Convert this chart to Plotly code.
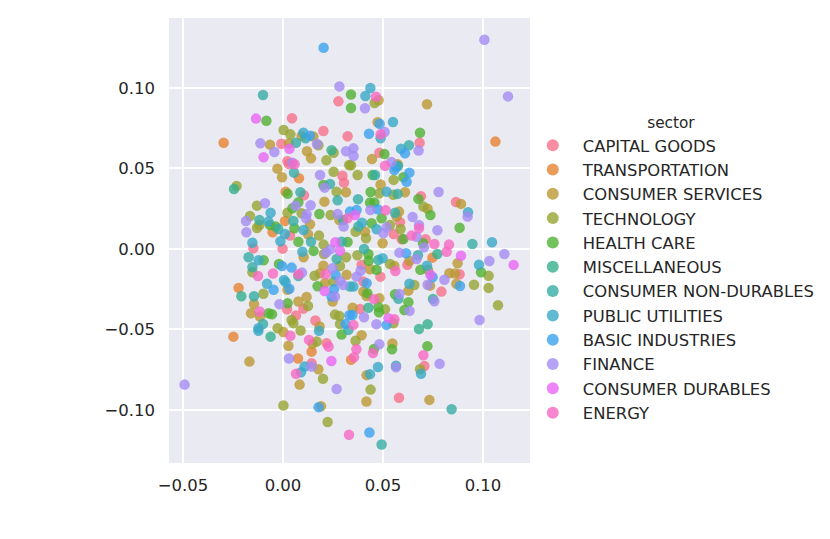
import plotly.graph_objects as go

capital_goods = [(.0277,.0917),(.0045,.0812),(.0202,.0733),(.0323,.07),(-.0008,.0654),(.0022,.0545),(.003,.0528),(.0683,.066),(.0482,.0598),(.0297,.0455),(.0305,.0412),(.0105,.0333),(.0035,.0083),(-.0002,.0002),(-.0148,.0004),(.002,-.0375),(.0065,-.0414),(.0102,-.0371),(.0162,-.0445),(.069,.0327),(.0865,.0292),(.0585,.0166),(.0553,.0093),(.0593,.006),(.0713,.006),(.0622,-.0098),(.0487,-.0172),(.0393,-.0099),(.0402,-.0203),(.0385,-.0373),(.0792,-.0265),(.0883,-.0157),(.0218,-.0586),(.0143,-.071),(.0707,-.0727),(.058,-.0925)]
transportation = [(-.0297,.066),(.1062,.0667),(.008,.0439),(.0013,.0356),(-.0052,.0104),(.001,.0174),(-.0222,-.0242),(.0747,-.0054),(-.0248,-.0545),(.0075,-.0681),(.0143,-.0638),(.034,-.0689)]
consumer_services = [(-.0065,.0648),(.0093,.0702),(.0152,.0698),(.003,.0656),(.012,.0607),(.014,.0563),(-.0028,.0499),(.072,.0899),(.0478,.0924),(.0473,.0787),(.0445,.0559),(.0573,.0526),(-.0005,.0445),(.0315,.0352),(.0207,.0294),(.0135,.0153),(.0282,.018),(.0125,.0091),(.0103,-.0052),(.0022,-.0253),(-.0145,-.0342),(-.016,-.04),(.0077,-.0327),(.0118,-.0298),(-.0115,-.042),(.0202,-.0104),(.0185,-.0151),(.0318,-.0161),(.021,-.0213),(.0248,-.0327),(.0488,.04),(.061,.0352),(.0723,.025),(.089,.028),(.058,.0232),(.0568,.0201),(.041,.0107),(.0498,.0035),(.0873,-.0089),(.0832,-.0151),(.086,-.0153),(.0867,-.0216),(.0735,-.0228),(.0627,-.0259),(.0632,-.0075),(.0557,-.0106),(.0435,-.0126),(.0402,-.0265),(.0418,-.0292),(.0482,-.0306),(.0348,-.0365),(-.0168,-.07),(.0002,-.0516),(.0027,-.0602),(.0148,-.059),(.0183,-.0482),(.0177,-.0747),(.0083,-.0843),(.019,-.0977),(.0393,-.0536),(.0547,-.0588),(.0418,-.0784),(.0417,-.0948),(.0732,-.0938)]
technology = [(.0003,.0739),(.0037,.0712),(.0177,.0644),(.0253,.0598),(.0217,.0551),(.0331,.0522),(.0253,.048),(.0458,.0907),(.034,.052),(.0373,.046),(.0553,.0429),(-.0232,.0391),(.0268,.0356),(-.013,.0269),(.0022,.0225),(.0093,.0222),(.0238,.0211),(-.0165,.0205),(-.0118,.0149),(-.013,.013),(.018,.0083),(.0203,.0027),(.0205,-.0031),(.0315,-.0052),(-.0153,-.0145),(-.0098,-.0278),(.0125,-.0354),(.026,-.0408),(.0282,-.0416),(.0043,-.0441),(.0158,-.0166),(.0285,-.0106),(.0252,-.0203),(.0482,.0346),(.0552,.0337),(.0702,.0263),(.0363,.0107),(.0415,.0066),(.0535,.0149),(.0588,.0124),(.1028,-.0166),(.0955,-.0222),(.1028,-.0242),(.1075,-.035),(.0725,-.013),(.0657,-.0224),(.0535,-.0093),(.0372,-.0039),(.051,-.0375),(-.0027,-.0493),(.0052,-.0462),(.0088,-.0507),(.0168,-.0575),(.0285,-.0466),(.02,-.0807),(.0002,-.0973),(.0223,-.1075),(.0363,-.057),(.0685,-.0747),(.0438,-.0874),(.0552,-.0462)]
health_care = [(.034,.096),(.034,.0876),(-.0083,.0797),(.0685,.0722),(.0507,.059),(.0602,.0445),(.0448,.046),(.0202,.0398),(.0023,.0343),(.0077,.029),(.0047,.0253),(.0182,.0217),(-.0037,.0139),(-.0065,.0149),(.0057,.0129),(.0077,.0045),(.0323,.0043),(.0153,-.0012),(-.0097,-.007),(-.002,-.0093),(.0023,-.0337),(-.0072,-.04),(-.0055,-.0406),(.0173,-.0232),(.0438,.0354),(.0677,.0311),(.0435,.0288),(.0457,.0288),(.0737,.0211),(.0493,.0191),(.0443,.016),(.0602,.0062),(.0883,.0132),(.07,.0035),(.0427,-.0031),(.0428,-.0073),(.0468,-.013),(.0422,-.0275),(.099,-.0145),(.0687,-.013),(.056,-.0281),(.0627,-.0331),(.0607,-.0379),(.0477,-.0362),(.048,-.0393),(.0293,-.0532),(.0455,-.0621),(.0545,-.0623),(.0722,-.0604)]
miscellaneous = [(.0243,.0613),(-.0245,.0373),(-.0208,-.0294),(.0772,-.0031),(.075,-.0311),(.0427,-.0365),(-.0062,-.0545),(.068,-.0497),(.0723,-.0468)]
consumer_non_durables = [(-.010,.0957),(.0113,.0688),(.0065,.066),(.063,.0644),(.0575,.0515),(.046,.046),(.0055,.0474),(.0235,.0404),(.0087,.0352),(.0273,.0302),(-.0118,.018),(-.0023,.0124),(.0052,.0174),(.03,.018),(.014,.0045),(.0293,.0045),(.0268,-.0062),(-.0172,-.0052),(-.0153,-.0114),(.0077,-.0168),(-.0145,-.0294),(.0335,-.0234),(.0573,.0342),(.0375,.0309),(.056,.0225),(.0377,.0139),(.0947,.0031),(.0675,-.0039),(.0405,0),(.0477,-.0068),(.0577,-.0309),(-.01,-.0466),(.0327,-.0503),(.0565,-.0725),(.0843,-.0996),(.0493,-.1215)]
public_utilities = [(.0102,.0722),(.0437,.1),(.0412,.095),(.055,.0789),(.0488,.0688),(.059,.0623),(.0565,.0511),(-.0062,.0225),(-.0073,.017),(.001,.0093),(.0103,.0118),(-.0013,.0048),(-.0153,.0039),(.0097,-.0017),(-.0122,-.007),(.0005,-.0193),(-.008,-.0216),(.0013,-.0207),(.0518,.0356),(.0925,.0228),(.0395,.0163),(.0468,.0122),(.1045,.0042),(.098,-.0098),(.072,-.0104),(.0632,-.0216),(.0498,-.0058),(.0352,-.0234),(-.0123,-.0493),(-.0123,-.0509),(.018,-.0509),(.0108,-.0731),(.009,-.0766),(.069,-.0775),(.0475,-.0733),(.0435,-.0778)]
basic_industries = [(.0203,.125),(.0135,.0704),(.0483,.0778),(.043,.0716),(.061,.0594),(.0632,.0474),(.0335,.0232),(-.0005,-.0106),(.0043,-.0116),(-.0047,-.0253),(.0032,-.0248),(.0263,-.0161),(.0255,-.025),(.0243,-.0296),(.0332,-.0412),(.0557,.0491),(.0618,.0418),(.0368,.0242),(.0473,.0247),(.0885,-.023),(.0748,-.0176),(.0615,-.0027),(.0418,-.0213),(.0347,-.041),(.0313,-.0466),(.0518,-.0472),(.0178,-.0983),(.0432,-.1141)]
finance = [(.0282,.101),(-.0113,.0656),(-.0043,.0602),(.017,.0652),(.0315,.0607),(.0047,.0536),(.1007,.13),(.1125,.0948),(.041,.0874),(.0508,.0727),(.0678,.0611),(.0352,.0625),(.0353,.0578),(.0542,.054),(.0185,.046),(.0208,.0381),(-.009,.0284),(.0063,.0269),(.0138,.0271),(.0118,.0215),(.0115,.0191),(.0273,.0217),(.0303,.0139),(-.0185,.0174),(-.0183,.0104),(.0215,-.0023),(.0237,-.0002),(.0095,-.0147),(-.0018,-.0343),(.0247,-.012),(.0285,-.0199),(.0302,-.0224),(.026,-.0296),(.0778,.0354),(.0923,.0201),(.0437,.0242),(.0648,.0199),(.068,.0149),(.0518,.0135),(.0502,.0098),(.0668,.0076),(.0772,.0116),(.0705,.001),(.1107,-.0031),(.1032,-.0075),(.0807,-.0191),(.0723,-.0222),(.0582,-.028),(.0757,-.0325),(.0633,-.0385),(.0582,-.0023),(.0668,-.0062),(.0388,-.0135),(.0368,-.0172),(.0405,-.0424),(.0983,-.0441),(-.0492,-.0843),(.003,-.0681),(.0143,-.0731),(.0268,-.087),(.0467,-.0468),(.0482,-.0592),(.0783,-.0714),(.0565,-.0735)]
consumer_durables = [(-.0135,.081),(-.0097,.057),(.0032,.0623),(.036,.0211),(.0262,.0042),(.0285,-.0012),(.0208,-.0261),(.089,-.0042),(.1153,-.0099),(.0737,-.016),(.0527,-.043),(.0242,-.0696)]
energy = [(.0058,.0526),(.0465,.0946),(.0488,.0712),(.051,.0517),(.0323,.0191),(.0513,.024),(.068,.0129),(.0643,.0083),(.0757,.0031),(.083,.0027),(.0818,-.0017),(.0562,-.0137),(.0077,-.0157),(-.0125,-.0168),(-.005,-.0153),(-.0117,-.0389),(.0213,-.0157),(.0455,-.0312),(.0557,-.0437),(.0037,-.0539),(.013,-.0565),(.0228,-.0607),(.0065,-.0776),(.033,-.1155),(.0352,-.0472),(.0367,-.0623),(.0355,-.0673),(.045,-.0646),(.0702,-.066)]

sectors = ["CAPITAL GOODS", "TRANSPORTATION", "CONSUMER SERVICES", "TECHNOLOGY", "HEALTH CARE",
           "MISCELLANEOUS", "CONSUMER NON-DURABLES", "PUBLIC UTILITIES", "BASIC INDUSTRIES",
           "FINANCE", "CONSUMER DURABLES", "ENERGY"]
series = [capital_goods, transportation, consumer_services, technology, health_care, miscellaneous,
          consumer_non_durables, public_utilities, basic_industries, finance, consumer_durables, energy]
colors = ["#f77189", "#e68332", "#bb9832", "#97a431", "#50b131", "#34af8d", "#36ada4", "#38a9c5",
          "#3ba3ec", "#a48cf4", "#e866f4", "#f668c2"]
x_ticks = [-0.05, 0.0, 0.05, 0.10]
x_labels = ["−0.05", "0.00", "0.05", "0.10"]
y_ticks = [-0.10, -0.05, 0.0, 0.05, 0.10]
y_labels = ["−0.10", "−0.05", "0.00", "0.05", "0.10"]

FONT = "DejaVu Sans"
TEXT = "#262626"

fig = go.Figure()
for name, pts, col in zip(sectors, series, colors):
    fig.add_trace(go.Scatter(
        x=[p[0] for p in pts], y=[p[1] for p in pts], mode="markers", name=name,
        marker=dict(color=col, size=10.5, opacity=0.8, line=dict(width=0)),
    ))

axis = dict(showgrid=True, gridcolor="white", gridwidth=1.5, zeroline=False, showline=False,
            ticks="", tickfont=dict(family=FONT, size=16.5, color=TEXT))
fig.update_layout(
    width=830, height=539,
    margin=dict(l=169, r=300, t=18, b=76, autoexpand=False),
    paper_bgcolor="white", plot_bgcolor="#eaeaf2",
    font=dict(family=FONT, color=TEXT),
    xaxis=dict(range=[-0.057, 0.1235], tickvals=x_ticks, ticktext=x_labels, ticklabelstandoff=10, **axis),
    yaxis=dict(range=[-0.133, 0.1435], tickvals=y_ticks, ticktext=y_labels, ticklabelstandoff=13, **axis),
    showlegend=True,
    legend=dict(
        x=0.98, xref="paper", xanchor="left", y=0.7975, yref="paper", yanchor="top",
        title=dict(text="sector", side="top center", font=dict(family=FONT, size=15.3, color=TEXT)),
        font=dict(family=FONT, size=16.4, color=TEXT),
        itemwidth=50, itemsizing="constant", bgcolor="rgba(0,0,0,0)",
        entrywidth=243, entrywidthmode="pixels",
    ),
)
fig.write_html("out.html", config={"displayModeBar": False}, post_script="document.body.style.margin='0';")
